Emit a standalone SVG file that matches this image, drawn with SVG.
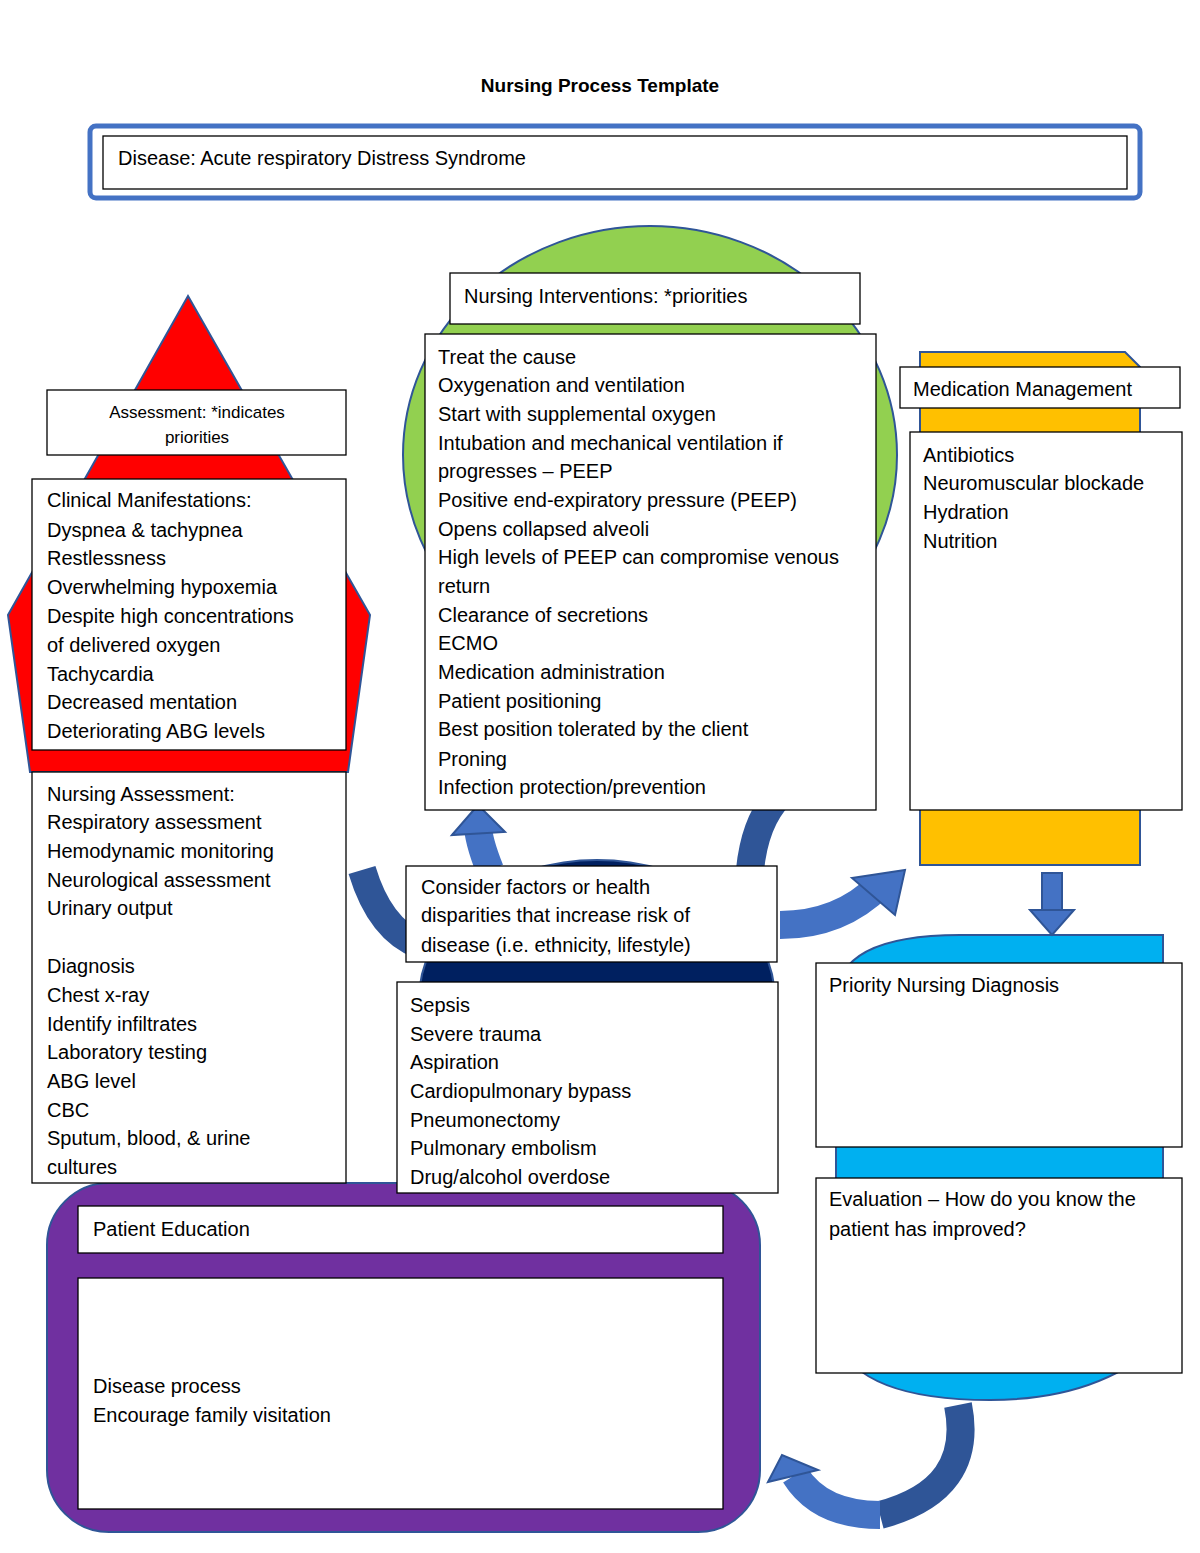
<svg xmlns="http://www.w3.org/2000/svg" width="1200" height="1553" viewBox="0 0 1200 1553">
<style>
.b{fill:#fff;stroke:#000;stroke-width:1.3}
.t{font-family:"Liberation Sans",Arial,sans-serif;font-size:20px;fill:#000}
.s{font-family:"Liberation Sans",Arial,sans-serif;font-size:17px;fill:#000}
.band{fill:none;stroke:#4472C4;stroke-width:28}
.bandd{fill:none;stroke:#2F5597;stroke-width:28}
.head{fill:#4472C4;stroke:#2F5597;stroke-width:2}
</style>
<rect width="1200" height="1553" fill="#fff"/>
<text x="600" y="92" text-anchor="middle" class="t" style="font-weight:bold;font-size:19px">Nursing Process Template</text>
<g id="disease">
<rect x="90" y="126" width="1050" height="72" rx="6" fill="#fff" stroke="#4472C4" stroke-width="5"/>
<rect x="103" y="136" width="1024" height="53" class="b"/>
<text x="118" y="165" class="t">Disease: Acute respiratory Distress Syndrome</text>
</g>
<g id="backgrounds">
<ellipse cx="650" cy="455" rx="247" ry="229" fill="#92D050" stroke="#2F5597" stroke-width="2"/>
<polygon points="188,296 370,615 348,772 30,772 8,615" fill="#FF0000" stroke="#2F5597" stroke-width="2"/>
<ellipse cx="597" cy="1000" rx="178" ry="140" fill="#002060" stroke="#2F5597" stroke-width="2"/>
<path d="M920,352 H1125 L1140,367 V865 H920 Z" fill="#FFC000" stroke="#2F5597" stroke-width="2"/>
<path d="M836,1000 Q836,935 960,935 H1163 V1340 Q1100,1400 990,1400 Q860,1400 836,1340 Z" fill="#00B0F0" stroke="#2F5597" stroke-width="2"/>
<rect x="47" y="1183" width="713" height="349" rx="62" fill="#7030A0" stroke="#2F5597" stroke-width="2"/>
</g>
<g id="connectors">
<path class="bandd" d="M362,870 Q380,930 420,945"/>
<path class="band" d="M490,870 Q478,840 478,825"/>
<polygon class="head" points="452,835 478,805 505,832"/>
<path class="bandd" d="M750,870 Q755,820 780,795"/>
<path class="band" d="M780,925 Q840,925 880,885"/>
<polygon class="head" points="852,878 905,870 895,915"/>
<rect x="1042" y="873" width="20" height="40" fill="#4472C4" stroke="#2F5597" stroke-width="2"/>
<polygon class="head" points="1030,910 1074,910 1052,935"/>
<path class="bandd" d="M958,1405 Q975,1490 880,1515"/>
<path class="band" d="M880,1515 Q820,1515 795,1475"/>
<polygon class="head" points="768,1482 782,1455 818,1470"/>
</g>
<g id="assessment"><rect x="47" y="390" width="299" height="65" class="b"/>
<text x="197" y="418" text-anchor="middle" class="s">Assessment: *indicates</text><text x="197" y="443" text-anchor="middle" class="s">priorities</text></g>
<g id="clinical"><rect x="32" y="479" width="314" height="271" class="b"/>
<text class="t" x="47"><tspan y="507">Clinical Manifestations:</tspan><tspan x="47" y="537">Dyspnea &amp; tachypnea</tspan><tspan x="47" y="565">Restlessness</tspan><tspan x="47" y="594">Overwhelming hypoxemia</tspan><tspan x="47" y="623">Despite high concentrations</tspan><tspan x="47" y="652">of delivered oxygen</tspan><tspan x="47" y="681">Tachycardia</tspan><tspan x="47" y="709">Decreased mentation</tspan><tspan x="47" y="738">Deteriorating ABG levels</tspan></text></g>
<g id="nursingassessment"><rect x="32" y="772" width="314" height="411" class="b"/>
<text class="t" x="47"><tspan y="801">Nursing Assessment:</tspan><tspan x="47" y="829">Respiratory assessment</tspan><tspan x="47" y="858">Hemodynamic monitoring</tspan><tspan x="47" y="887">Neurological assessment</tspan><tspan x="47" y="915">Urinary output</tspan><tspan x="47" y="973">Diagnosis</tspan><tspan x="47" y="1002">Chest x-ray</tspan><tspan x="47" y="1031">Identify infiltrates</tspan><tspan x="47" y="1059">Laboratory testing</tspan><tspan x="47" y="1088">ABG level</tspan><tspan x="47" y="1117">CBC</tspan><tspan x="47" y="1145">Sputum, blood, &amp; urine</tspan><tspan x="47" y="1174">cultures</tspan></text></g>
<g id="intheader"><rect x="450" y="273" width="410" height="51" class="b"/><text x="464" y="303" class="t">Nursing Interventions: *priorities</text></g>
<g id="interventions"><rect x="425" y="334" width="451" height="476" class="b"/>
<text class="t" x="438"><tspan y="364">Treat the cause</tspan><tspan x="438" y="392">Oxygenation and ventilation</tspan><tspan x="438" y="421">Start with supplemental oxygen</tspan><tspan x="438" y="450">Intubation and mechanical ventilation if</tspan><tspan x="438" y="478">progresses – PEEP</tspan><tspan x="438" y="507">Positive end-expiratory pressure (PEEP)</tspan><tspan x="438" y="536">Opens collapsed alveoli</tspan><tspan x="438" y="564">High levels of PEEP can compromise venous</tspan><tspan x="438" y="593">return</tspan><tspan x="438" y="622">Clearance of secretions</tspan><tspan x="438" y="650">ECMO</tspan><tspan x="438" y="679">Medication administration</tspan><tspan x="438" y="708">Patient positioning</tspan><tspan x="438" y="736">Best position tolerated by the client</tspan><tspan x="438" y="766">Proning</tspan><tspan x="438" y="794">Infection protection/prevention</tspan></text></g>
<g id="medheader"><rect x="900" y="367" width="280" height="41" class="b"/><text x="913" y="396" class="t">Medication Management</text></g>
<g id="meds"><rect x="910" y="432" width="272" height="378" class="b"/>
<text class="t" x="923"><tspan y="462">Antibiotics</tspan><tspan x="923" y="490">Neuromuscular blockade</tspan><tspan x="923" y="519">Hydration</tspan><tspan x="923" y="548">Nutrition</tspan></text></g>
<g id="consider"><rect x="406" y="866" width="371" height="96" class="b"/>
<text class="t" x="421"><tspan y="894">Consider factors or health</tspan><tspan x="421" y="922">disparities that increase risk of</tspan><tspan x="421" y="952">disease (i.e. ethnicity, lifestyle)</tspan></text></g>
<g id="causes"><rect x="397" y="982" width="381" height="211" class="b"/>
<text class="t" x="410"><tspan y="1012">Sepsis</tspan><tspan x="410" y="1041">Severe trauma</tspan><tspan x="410" y="1069">Aspiration</tspan><tspan x="410" y="1098">Cardiopulmonary bypass</tspan><tspan x="410" y="1127">Pneumonectomy</tspan><tspan x="410" y="1155">Pulmonary embolism</tspan><tspan x="410" y="1184">Drug/alcohol overdose</tspan></text></g>
<g id="priority"><rect x="816" y="963" width="366" height="184" class="b"/><text x="829" y="992" class="t">Priority Nursing Diagnosis</text></g>
<g id="evaluation"><rect x="816" y="1178" width="366" height="195" class="b"/>
<text class="t" x="829"><tspan y="1206">Evaluation – How do you know the</tspan><tspan x="829" y="1236">patient has improved?</tspan></text></g>
<g id="education"><rect x="78" y="1206" width="645" height="47" class="b"/><text x="93" y="1236" class="t">Patient Education</text></g>
<g id="educationbody"><rect x="78" y="1278" width="645" height="231" class="b"/>
<text class="t" x="93"><tspan y="1393">Disease process</tspan><tspan x="93" y="1422">Encourage family visitation</tspan></text></g>
</svg>
